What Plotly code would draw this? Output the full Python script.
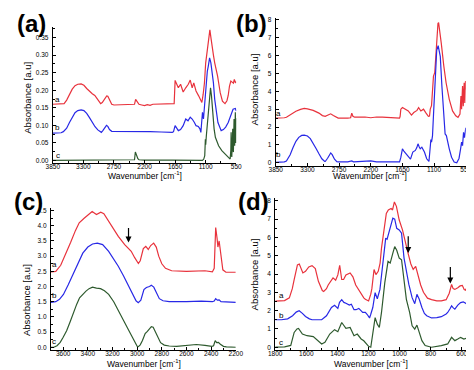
import plotly.graph_objects as go

# ---------------- Panel (a) ----------------
a_wn_a = [3850, 3700, 3646, 3600, 3550, 3500, 3450, 3400, 3340, 3290, 3240, 3190, 3140, 3094, 3050, 3010, 2989, 2960, 2920, 2880, 2860, 2830, 2790, 2750, 2600, 2450, 2380, 2360, 2345, 2330, 2300, 2250, 2200, 2150, 2100, 2050, 2000, 1950, 1900, 1850, 1800, 1700, 1667, 1650, 1621, 1592, 1552, 1505, 1459, 1413, 1378, 1343, 1314, 1274, 1227, 1187, 1169, 1146, 1123, 1100, 1065, 1042, 1025, 1001, 978, 961, 938, 909, 886, 863, 839, 799, 753, 718, 695, 672, 648, 625, 602, 585, 567, 550]
a_val_a = [0.160, 0.160, 0.162, 0.172, 0.188, 0.203, 0.213, 0.217, 0.218, 0.214, 0.205, 0.196, 0.190, 0.185, 0.176, 0.166, 0.162, 0.165, 0.176, 0.184, 0.183, 0.172, 0.160, 0.158, 0.158, 0.158, 0.160, 0.174, 0.170, 0.164, 0.160, 0.158, 0.156, 0.159, 0.157, 0.160, 0.160, 0.161, 0.160, 0.160, 0.161, 0.160, 0.162, 0.228, 0.215, 0.207, 0.217, 0.195, 0.207, 0.217, 0.229, 0.207, 0.221, 0.198, 0.184, 0.169, 0.165, 0.188, 0.220, 0.278, 0.325, 0.367, 0.372, 0.344, 0.311, 0.300, 0.278, 0.259, 0.240, 0.217, 0.193, 0.169, 0.162, 0.170, 0.185, 0.212, 0.226, 0.223, 0.220, 0.231, 0.222, 0.224]

a_wn_b = [3850, 3750, 3700, 3660, 3600, 3550, 3500, 3450, 3400, 3340, 3290, 3240, 3190, 3140, 3090, 3040, 2990, 2977, 2950, 2910, 2884, 2860, 2830, 2790, 2700, 2500, 2400, 2360, 2300, 2100, 1900, 1750, 1700, 1679, 1650, 1621, 1592, 1552, 1505, 1459, 1418, 1378, 1343, 1303, 1274, 1233, 1204, 1187, 1169, 1158, 1140, 1123, 1100, 1071, 1054, 1030, 1007, 984, 961, 938, 915, 897, 880, 857, 839, 822, 782, 741, 695, 648, 608, 567, 550]
a_val_b = [0.078, 0.078, 0.079, 0.082, 0.092, 0.108, 0.124, 0.136, 0.142, 0.144, 0.142, 0.134, 0.122, 0.108, 0.096, 0.087, 0.080, 0.080, 0.085, 0.096, 0.100, 0.097, 0.088, 0.083, 0.083, 0.083, 0.083, 0.084, 0.082, 0.082, 0.081, 0.080, 0.080, 0.082, 0.099, 0.092, 0.085, 0.088, 0.099, 0.118, 0.113, 0.123, 0.118, 0.108, 0.099, 0.097, 0.090, 0.080, 0.118, 0.137, 0.118, 0.155, 0.193, 0.254, 0.268, 0.292, 0.278, 0.250, 0.221, 0.174, 0.141, 0.118, 0.108, 0.099, 0.090, 0.085, 0.088, 0.095, 0.108, 0.132, 0.146, 0.148, 0.141]

a_wn_c = [3850, 3600, 3500, 2400, 2380, 2365, 2350, 2335, 2320, 2300, 2200, 1700, 1200, 1158, 1135, 1117, 1106, 1100, 1088, 1071, 1054, 1030, 1013, 996, 973, 949, 926, 897, 868, 810, 753, 695, 660, 648, 643, 637, 631, 619, 614, 608, 602, 596, 590, 585, 579, 573, 567, 561, 556, 550]
a_val_c = [0.0, 0.0, 0.001, 0.0, 0.002, 0.024, 0.018, 0.010, 0.005, 0.002, 0.001, 0.001, 0.0, 0.0, 0.004, 0.014, 0.060, 0.045, 0.071, 0.099, 0.137, 0.184, 0.207, 0.184, 0.127, 0.090, 0.066, 0.052, 0.042, 0.028, 0.019, 0.009, 0.004, 0.030, 0.080, 0.020, 0.010, 0.050, 0.090, 0.030, 0.024, 0.070, 0.118, 0.060, 0.042, 0.090, 0.137, 0.080, 0.050, 0.120]

# ---------------- Panel (b) ----------------
b_wn_a = [3850, 3750, 3700, 3665, 3600, 3500, 3420, 3355, 3300, 3200, 3100, 3040, 2991, 2940, 2896, 2850, 2790, 2766, 2600, 2550, 2530, 2510, 2480, 2400, 2300, 2200, 2100, 2000, 1900, 1800, 1700, 1690, 1678, 1650, 1594, 1549, 1493, 1453, 1397, 1369, 1330, 1284, 1246, 1200, 1180, 1167, 1145, 1111, 1089, 1060, 1033, 1022, 1005, 976, 931, 892, 837, 780, 724, 685, 651, 634, 623, 606, 594, 578, 567, 555, 550]
b_val_a = [2.50, 2.50, 2.52, 2.55, 2.68, 2.88, 2.99, 3.04, 3.02, 2.93, 2.78, 2.64, 2.60, 2.68, 2.74, 2.65, 2.52, 2.50, 2.50, 2.52, 2.78, 2.60, 2.55, 2.56, 2.56, 2.52, 2.56, 2.55, 2.53, 2.50, 2.50, 2.60, 3.00, 3.09, 3.00, 2.90, 2.67, 2.81, 2.93, 3.09, 2.90, 3.00, 2.81, 2.60, 2.62, 3.00, 3.20, 4.85, 5.04, 6.89, 7.80, 7.85, 7.50, 6.70, 5.40, 4.48, 3.55, 2.90, 2.63, 2.54, 2.72, 3.74, 3.00, 4.30, 3.17, 4.48, 3.35, 4.57, 4.10]

b_wn_b = [3850, 3750, 3700, 3665, 3600, 3550, 3500, 3450, 3400, 3355, 3300, 3250, 3200, 3150, 3100, 3050, 3000, 2991, 2950, 2920, 2896, 2870, 2830, 2790, 2766, 2600, 2530, 2500, 2400, 2300, 2200, 2100, 2000, 1900, 1800, 1700, 1678, 1665, 1650, 1622, 1566, 1510, 1470, 1426, 1400, 1380, 1360, 1341, 1313, 1290, 1268, 1229, 1190, 1175, 1167, 1156, 1145, 1128, 1106, 1083, 1055, 1030, 1010, 993, 965, 945, 931, 909, 887, 870, 837, 797, 752, 707, 668, 640, 623, 606, 589, 572, 555, 550]
b_val_b = [0.02, 0.02, 0.05, 0.10, 0.45, 0.85, 1.20, 1.42, 1.53, 1.55, 1.50, 1.35, 1.10, 0.80, 0.50, 0.22, 0.07, 0.07, 0.25, 0.45, 0.55, 0.45, 0.20, 0.06, 0.05, 0.05, 0.10, 0.05, 0.07, 0.10, 0.10, 0.05, 0.06, 0.03, 0.04, 0.05, 0.30, 0.70, 0.78, 0.63, 0.41, 0.20, 0.60, 0.69, 0.85, 1.06, 0.90, 0.78, 0.87, 0.75, 0.60, 0.22, 0.07, 0.60, 1.15, 1.30, 1.15, 1.50, 3.00, 4.85, 6.30, 6.56, 6.30, 5.96, 4.30, 3.20, 2.44, 1.61, 1.52, 1.24, 0.78, 0.31, 0.04, 0.00, 0.24, 0.78, 1.15, 0.96, 1.70, 1.41, 1.87, 1.96]

# ---------------- Panel (c) ----------------
c_wn_a = [3700, 3660, 3620, 3580, 3540, 3500, 3470, 3430, 3400, 3365, 3330, 3295, 3270, 3240, 3200, 3153, 3101, 3074, 3048, 3020, 3000, 2990, 2975, 2950, 2930, 2910, 2890, 2866, 2845, 2825, 2800, 2770, 2720, 2600, 2450, 2390, 2375, 2363, 2352, 2345, 2335, 2320, 2305, 2280, 2200]
c_val_a = [2.48, 2.50, 2.70, 3.05, 3.45, 3.85, 4.10, 4.25, 4.35, 4.47, 4.37, 4.45, 4.40, 4.20, 3.95, 3.65, 3.38, 3.27, 3.16, 2.95, 2.80, 2.76, 2.85, 3.25, 3.32, 3.22, 3.35, 3.43, 3.30, 3.00, 2.75, 2.60, 2.52, 2.50, 2.52, 2.48, 2.60, 3.94, 3.60, 3.30, 3.50, 3.00, 2.55, 2.47, 2.47]

c_wn_b = [3700, 3660, 3630, 3598, 3560, 3519, 3480, 3441, 3400, 3362, 3323, 3280, 3231, 3190, 3153, 3110, 3074, 3040, 3009, 2991, 2970, 2945, 2925, 2900, 2885, 2865, 2845, 2820, 2790, 2740, 2600, 2480, 2390, 2375, 2363, 2350, 2335, 2320, 2200]
c_val_b = [1.48, 1.50, 1.58, 1.74, 2.05, 2.40, 2.78, 3.10, 3.30, 3.40, 3.43, 3.38, 3.16, 2.92, 2.67, 2.35, 2.07, 1.78, 1.53, 1.47, 1.55, 1.90, 1.97, 2.00, 2.04, 1.98, 1.80, 1.60, 1.53, 1.50, 1.50, 1.52, 1.50, 1.52, 1.60, 1.55, 1.56, 1.50, 1.48]

c_wn_c = [3700, 3676, 3650, 3624, 3600, 3572, 3545, 3519, 3490, 3467, 3440, 3415, 3390, 3362, 3330, 3297, 3265, 3231, 3190, 3153, 3110, 3074, 3045, 3022, 3000, 2990, 2975, 2957, 2935, 2917, 2900, 2885, 2870, 2850, 2830, 2810, 2780, 2740, 2680, 2600, 2520, 2450, 2394, 2380, 2367, 2355, 2341, 2325, 2300, 2276, 2200]
c_val_c = [0.0, 0.0, 0.05, 0.16, 0.33, 0.54, 0.82, 1.14, 1.42, 1.63, 1.76, 1.85, 1.93, 1.98, 1.95, 1.93, 1.86, 1.74, 1.50, 1.20, 0.90, 0.60, 0.38, 0.22, 0.03, 0.02, 0.08, 0.22, 0.45, 0.52, 0.60, 0.68, 0.66, 0.50, 0.30, 0.15, 0.07, 0.04, 0.03, 0.05, 0.09, 0.06, 0.03, 0.05, 0.22, 0.15, 0.16, 0.10, 0.03, 0.01, 0.0]

# ---------------- Panel (d) ----------------
d_wn_a = [1800, 1770, 1740, 1709, 1690, 1678, 1657, 1645, 1634, 1622, 1605, 1584, 1563, 1542, 1522, 1509, 1497, 1488, 1470, 1459, 1428, 1411, 1397, 1385, 1372, 1360, 1345, 1318, 1300, 1282, 1268, 1251, 1230, 1220, 1199, 1185, 1178, 1164, 1152, 1137, 1125, 1116, 1095, 1085, 1072, 1054, 1045, 1033, 1020, 1012, 1002, 981, 965, 944, 927, 912, 896, 881, 864, 846, 820, 794, 760, 731, 700, 680, 670, 665, 655, 644, 625, 610, 596, 584, 575, 567, 561, 555, 550]
d_val_a = [2.52, 2.52, 2.55, 2.70, 3.20, 3.70, 4.50, 4.55, 4.33, 4.06, 4.15, 4.39, 4.46, 4.30, 3.60, 3.30, 3.10, 3.05, 3.20, 3.40, 3.79, 3.66, 3.95, 4.48, 3.70, 3.70, 3.95, 4.06, 3.85, 3.40, 3.20, 3.00, 2.70, 2.62, 2.53, 2.90, 3.20, 4.25, 3.97, 4.15, 4.60, 5.42, 6.77, 7.31, 7.50, 7.58, 7.50, 7.94, 7.70, 7.40, 6.95, 6.41, 5.80, 5.10, 4.55, 4.25, 4.42, 3.95, 3.40, 3.00, 2.68, 2.60, 2.53, 2.53, 2.60, 2.95, 3.20, 3.43, 3.20, 3.16, 3.25, 3.35, 3.38, 3.15, 3.12, 3.30, 3.34, 3.15, 3.07]

d_wn_b = [1800, 1760, 1720, 1688, 1665, 1646, 1625, 1605, 1580, 1563, 1501, 1470, 1438, 1418, 1397, 1386, 1372, 1358, 1345, 1323, 1310, 1293, 1280, 1262, 1237, 1220, 1209, 1193, 1185, 1172, 1157, 1143, 1126, 1105, 1089, 1080, 1060, 1043, 1031, 1018, 1002, 987, 971, 956, 940, 919, 902, 888, 873, 856, 840, 825, 794, 760, 731, 700, 690, 675, 665, 654, 644, 625, 607, 590, 575, 565, 549]
d_val_b = [1.50, 1.50, 1.55, 1.72, 1.92, 1.99, 1.85, 1.68, 1.55, 1.50, 1.50, 1.72, 2.17, 2.29, 2.12, 2.45, 2.60, 2.45, 2.40, 2.30, 2.35, 2.05, 2.05, 2.12, 1.90, 1.90, 1.80, 1.60, 1.80, 2.17, 2.98, 2.65, 3.16, 4.78, 5.96, 5.90, 6.50, 7.05, 7.00, 6.50, 6.41, 6.23, 4.87, 4.15, 3.43, 2.71, 2.38, 2.89, 2.62, 2.17, 1.85, 1.72, 1.60, 1.62, 1.67, 1.82, 1.90, 2.10, 2.26, 2.15, 2.08, 2.30, 2.44, 2.48, 2.42, 2.35, 2.13]

d_wn_c = [1800, 1740, 1700, 1678, 1660, 1650, 1625, 1595, 1555, 1522, 1501, 1480, 1449, 1418, 1397, 1372, 1345, 1318, 1293, 1272, 1247, 1230, 1215, 1199, 1185, 1172, 1157, 1143, 1130, 1116, 1095, 1074, 1060, 1043, 1031, 1018, 1002, 987, 971, 956, 935, 919, 902, 888, 873, 856, 835, 794, 731, 690, 665, 644, 625, 607, 586, 565, 549]
d_val_c = [0.0, 0.02, 0.10, 0.81, 1.00, 1.03, 0.72, 0.63, 0.58, 0.36, 0.18, 0.27, 0.72, 0.96, 0.85, 1.35, 1.03, 1.08, 0.63, 0.72, 0.45, 0.35, 0.18, 0.05, 0.0, 0.81, 1.62, 1.26, 1.08, 1.90, 3.52, 4.69, 4.60, 5.14, 5.50, 5.30, 4.87, 4.78, 3.52, 2.62, 1.90, 1.17, 0.99, 1.21, 0.81, 0.36, 0.09, 0.0, 0.09, 0.18, 0.54, 0.36, 0.45, 0.54, 0.45, 0.50, 0.36]

panel_letters = ["(a)", "(b)", "(c)", "(d)"]
curve_names = ["a", "b", "c"]
x_title = "Wavenumber [cm<sup>-1</sup>]"
y_title = "Absorbance [a.u]"

RED = "#e8323c"
BLUE = "#2828e6"
GREEN = "#2e5a2e"
FONT = "Arial, Liberation Sans, sans-serif"

fig = go.Figure()

def add(x, y, color, ax):
    fig.add_trace(go.Scatter(x=x, y=y, mode="lines", line=dict(color=color, width=1.2),
                             xaxis="x" + ax, yaxis="y" + ax, showlegend=False, hoverinfo="skip"))

add(a_wn_a, a_val_a, RED, "")
add(a_wn_b, a_val_b, BLUE, "")
add(a_wn_c, a_val_c, GREEN, "")
add(b_wn_a, b_val_a, RED, "2")
add(b_wn_b, b_val_b, BLUE, "2")
add(c_wn_a, c_val_a, RED, "3")
add(c_wn_b, c_val_b, BLUE, "3")
add(c_wn_c, c_val_c, GREEN, "3")
add(d_wn_a, d_val_a, RED, "4")
add(d_wn_b, d_val_b, BLUE, "4")
add(d_wn_c, d_val_c, GREEN, "4")

tickfont = dict(family=FONT, size=6.5, color="black")

def xax(dom, rng, dtick, tick0, minor_dtick, anchor):
    return dict(domain=dom, range=rng, tick0=tick0, dtick=dtick, ticks="inside", ticklen=3,
                tickwidth=1, tickcolor="black", showline=True, linecolor="black", linewidth=1,
                showgrid=False, zeroline=False, tickfont=tickfont, anchor=anchor,
                minor=dict(ticks="inside", ticklen=2, dtick=minor_dtick, tick0=tick0, tickcolor="black"),
                ticklabelstandoff=-3)

def yax(dom, rng, dtick, fmt, minor_dtick, anchor):
    return dict(domain=dom, range=rng, tick0=0, dtick=dtick, tickformat=fmt, ticks="inside", ticklen=3,
                tickwidth=1, tickcolor="black", showline=True, linecolor="black", linewidth=1,
                showgrid=False, zeroline=False, tickfont=tickfont, anchor=anchor,
                minor=dict(ticks="inside", ticklen=2, dtick=minor_dtick, tick0=0, tickcolor="black"),
                ticklabelstandoff=2)

fig.update_layout(
    width=474, height=370, autosize=False,
    margin=dict(l=0, r=0, t=0, b=0),
    paper_bgcolor="white", plot_bgcolor="white",
    font=dict(family=FONT, color="black"),
    xaxis=xax([0.0823, 0.4821], [3850, 550], 550, 550, 275, "y"),
    yaxis=yax([0.5838, 0.9541], [-0.0065, 0.3805], 0.05, ".2f", 0.025, "x"),
    xaxis2=xax([0.5681, 0.9821], [3850, 550], 550, 550, 275, "y2"),
    yaxis2=yax([0.5757, 0.9784], [-0.167, 8.11], 1, "d", 0.5, "x2"),
    xaxis3=xax([0.0781, 0.4810], [3700, 2200], 200, 2200, 100, "y3"),
    yaxis3=yax([0.0730, 0.4595], [-0.098, 4.575], 0.5, ".1f", 0.25, "x3"),
    xaxis4=xax([0.5669, 0.9901], [1800, 550], 200, 600, 100, "y4"),
    yaxis4=yax([0.0730, 0.4865], [-0.163, 8.13], 1, "d", 0.5, "x4"),
)

ann = []
# panel letters
for txt, (px, py) in zip(panel_letters, [(0.036, 0.962), (0.515, 0.962), (0.030, 0.478), (0.519, 0.478)]):
    ann.append(dict(text="<b>" + txt + "</b>", x=px, y=py, xref="paper", yref="paper", showarrow=False,
                    font=dict(family=FONT, size=24, color="black"), xanchor="center", yanchor="middle"))
# axis titles
for (px, py) in [(0.284, 0.548), (0.774, 0.548), (0.280, 0.036), (0.776, 0.036)]:
    ann.append(dict(text=x_title, x=px, y=py, xref="paper", yref="paper", showarrow=False,
                    font=dict(family=FONT, size=8.5, color="black"), xanchor="center", yanchor="middle"))
for (px, py) in [(0.027, 0.762), (0.521, 0.784), (0.025, 0.211), (0.521, 0.280)]:
    ann.append(dict(text=y_title, x=px, y=py, xref="paper", yref="paper", showarrow=False, textangle=-90,
                    font=dict(family=FONT, size=9.5, color="black"), xanchor="center", yanchor="middle"))

# curve labels
label_pos = {
    "": (3763, [0.174, 0.094, 0.014]),
    "2": (3794, [2.78, 0.44]),
    "3": (3671, [2.72, 1.72, 0.20]),
    "4": (1761, [2.82, 1.72, 0.27]),
}
for ax, (xv, ys) in label_pos.items():
    for name, yv in zip(curve_names, ys):
        ann.append(dict(text=name, x=xv, y=yv, xref="x" + ax, yref="y" + ax, showarrow=False,
                        font=dict(family=FONT, size=8, color="black"), xanchor="center", yanchor="middle"))

# arrows
for (ax, xv, ytail, yhead) in [("3", 3070, 3.98, 3.45), ("4", 944, 6.14, 5.15), ("4", 673, 4.46, 3.48)]:
    ann.append(dict(x=xv, y=yhead, ax=xv, ay=ytail, xref="x" + ax, yref="y" + ax,
                    axref="x" + ax, ayref="y" + ax, showarrow=True, arrowhead=2, arrowsize=1,
                    arrowwidth=1.2, arrowcolor="black", text=""))

fig.update_layout(annotations=ann)
fig.write_html("out.html")
